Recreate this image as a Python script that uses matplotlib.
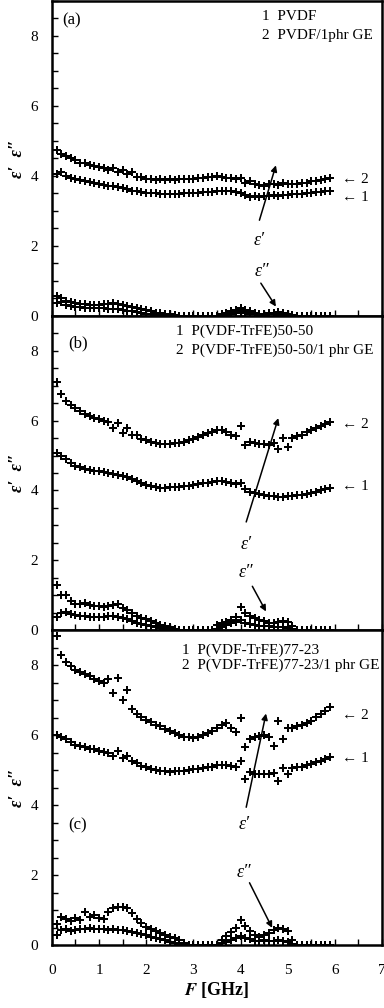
import numpy as np
import matplotlib as mpl
mpl.use("Agg")
import matplotlib.pyplot as plt
from matplotlib.ticker import MultipleLocator

mpl.rcParams.update({
    "font.family": "serif", "font.serif": ["Liberation Serif", "DejaVu Serif"],
    "mathtext.fontset": "stix",
    "font.size": 11, "xtick.labelsize": 11, "ytick.labelsize": 11,
    "xtick.direction": "in", "ytick.direction": "in",
})

# frequency grid (GHz)
F = np.round(np.arange(0.1, 5.95, 0.1), 1)

# ---- panel (a): PVDF (1) and PVDF/1phr GE (2)
a_e1_2 = [4.75, 4.62, 4.58, 4.50, 4.44, 4.38, 4.36, 4.32, 4.28, 4.25,
          4.22, 4.18, 4.22, 4.10, 4.18, 4.04, 4.10, 3.98, 3.96, 3.92,
          3.92, 3.89, 3.90, 3.88, 3.90, 3.88, 3.90, 3.90, 3.90, 3.92,
          3.93, 3.94, 3.96, 3.97, 3.99, 3.97, 3.95, 3.93, 3.90, 3.95,
          3.80, 3.85, 3.76, 3.75, 3.72, 3.76, 3.78, 3.74, 3.80, 3.76,
          3.78, 3.76, 3.80, 3.80, 3.84, 3.86, 3.88, 3.92, 3.93]
a_e1_1 = [4.05, 4.10, 4.00, 3.95, 3.90, 3.87, 3.84, 3.82, 3.80, 3.77,
          3.75, 3.72, 3.70, 3.68, 3.65, 3.62, 3.58, 3.56, 3.54, 3.52,
          3.50, 3.50, 3.49, 3.49, 3.49, 3.48, 3.49, 3.50, 3.50, 3.51,
          3.52, 3.53, 3.54, 3.55, 3.56, 3.58, 3.57, 3.56, 3.53, 3.50,
          3.45, 3.40, 3.42, 3.40, 3.42, 3.41, 3.44, 3.43, 3.46, 3.46,
          3.47, 3.47, 3.49, 3.50, 3.52, 3.53, 3.54, 3.56, 3.57]
a_e2_2 = [0.55, 0.50, 0.42, 0.38, 0.35, 0.33, 0.32, 0.30, 0.30, 0.30,
          0.32, 0.34, 0.36, 0.33, 0.30, 0.28, 0.24, 0.22, 0.18, 0.15,
          0.12, 0.09, 0.07, 0.05, 0.04, 0.02, 0, 0, 0, 0,
          0, 0, 0, 0, 0, 0.05, 0.08, 0.12, 0.16, 0.22,
          0.15, 0.12, 0.08, 0.06, 0.05, 0.07, 0.08, 0.10, 0.08, 0.06,
          0.02, 0, 0, 0, 0, 0, 0, 0, 0]
a_e2_1 = [0.35, 0.38, 0.30, 0.27, 0.25, 0.24, 0.23, 0.22, 0.22, 0.22,
          0.22, 0.20, 0.20, 0.18, 0.16, 0.14, 0.12, 0.10, 0.08, 0.06,
          0.05, 0.03, 0.02, 0.01, 0, 0, 0, 0, 0, 0,
          0, 0, 0, 0, 0, 0, 0.03, 0.05, 0.08, 0.10,
          0.08, 0.05, 0.04, 0.03, 0.03, 0.04, 0.04, 0.03, 0.02, 0.02,
          0, 0, 0, 0, 0, 0, 0, 0, 0]

# ---- panel (b): P(VDF-TrFE)50-50 (1) and /1 phr GE (2)
b_e1_2 = [7.10, 6.75, 6.55, 6.45, 6.35, 6.27, 6.20, 6.14, 6.08, 6.05,
          6.00, 5.95, 5.80, 5.92, 5.65, 5.80, 5.58, 5.60, 5.48, 5.44,
          5.40, 5.36, 5.34, 5.32, 5.33, 5.35, 5.37, 5.40, 5.44, 5.48,
          5.53, 5.58, 5.63, 5.67, 5.72, 5.74, 5.68, 5.60, 5.55, 5.85,
          5.30, 5.40, 5.35, 5.34, 5.32, 5.30, 5.36, 5.20, 5.50, 5.25,
          5.50, 5.55, 5.60, 5.66, 5.72, 5.78, 5.84, 5.90, 5.97]
b_e1_1 = [5.08, 5.00, 4.90, 4.78, 4.70, 4.66, 4.62, 4.60, 4.57, 4.55,
          4.53, 4.50, 4.48, 4.45, 4.42, 4.38, 4.33, 4.26, 4.20, 4.16,
          4.13, 4.10, 4.08, 4.08, 4.09, 4.10, 4.10, 4.12, 4.14, 4.16,
          4.18, 4.20, 4.22, 4.24, 4.26, 4.27, 4.25, 4.20, 4.18, 4.22,
          4.05, 3.95, 3.93, 3.90, 3.88, 3.85, 3.83, 3.82, 3.80, 3.84,
          3.85, 3.86, 3.88, 3.90, 3.93, 3.96, 4.00, 4.04, 4.08]
b_e2_2 = [1.30, 1.02, 1.00, 0.85, 0.76, 0.74, 0.78, 0.72, 0.70, 0.69,
          0.68, 0.69, 0.72, 0.74, 0.65, 0.58, 0.50, 0.42, 0.36, 0.32,
          0.26, 0.20, 0.16, 0.12, 0.09, 0.05, 0.02, 0, 0, 0,
          0, 0, 0, 0, 0.15, 0.20, 0.25, 0.30, 0.38, 0.68,
          0.50, 0.42, 0.35, 0.30, 0.26, 0.22, 0.20, 0.25, 0.28, 0.24,
          0.12, 0, 0, 0, 0, 0, 0, 0, 0]
b_e2_1 = [0.38, 0.50, 0.52, 0.46, 0.43, 0.41, 0.40, 0.39, 0.39, 0.38,
          0.39, 0.41, 0.40, 0.38, 0.35, 0.32, 0.27, 0.22, 0.18, 0.15,
          0.12, 0.09, 0.06, 0.04, 0.02, 0, 0, 0, 0, 0,
          0, 0, 0, 0, 0.05, 0.10, 0.14, 0.20, 0.25, 0.30,
          0.22, 0.18, 0.15, 0.13, 0.12, 0.11, 0.10, 0.10, 0.09, 0.08,
          0.03, 0, 0, 0, 0, 0, 0, 0, 0]

# ---- panel (c): P(VDF-TrFE)77-23 (1) and /1 phr GE (2)
c_e1_2 = [8.85, 8.30, 8.10, 7.98, 7.86, 7.80, 7.76, 7.70, 7.62, 7.55,
          7.48, 7.60, 7.20, 7.65, 7.00, 7.30, 6.75, 6.60, 6.52, 6.44,
          6.38, 6.30, 6.25, 6.17, 6.12, 6.06, 6.00, 5.96, 5.94, 5.93,
          5.95, 6.00, 6.06, 6.12, 6.20, 6.30, 6.35, 6.20, 6.10, 6.50,
          5.65, 5.90, 5.95, 5.98, 6.00, 5.95, 5.70, 6.40, 5.90, 6.20,
          6.20, 6.25, 6.30, 6.35, 6.42, 6.52, 6.60, 6.70, 6.80]
c_e1_1 = [6.00, 5.95, 5.88, 5.80, 5.72, 5.68, 5.65, 5.62, 5.60, 5.56,
          5.52, 5.50, 5.42, 5.55, 5.35, 5.40, 5.25, 5.20, 5.12, 5.08,
          5.04, 5.00, 4.98, 4.97, 4.96, 4.97, 4.97, 4.98, 5.00, 5.02,
          5.04, 5.06, 5.08, 5.10, 5.14, 5.16, 5.15, 5.12, 5.10, 5.25,
          4.75, 4.95, 4.90, 4.90, 4.88, 4.90, 4.92, 4.70, 5.05, 4.90,
          5.05, 5.08, 5.10, 5.14, 5.18, 5.22, 5.27, 5.32, 5.37]
c_e2_2 = [0.60, 0.80, 0.75, 0.70, 0.78, 0.72, 0.95, 0.80, 0.86, 0.78,
          0.75, 0.95, 1.05, 1.08, 1.10, 1.05, 0.92, 0.75, 0.62, 0.52,
          0.46, 0.40, 0.35, 0.30, 0.24, 0.20, 0.14, 0.06, 0, 0,
          0, 0, 0, 0, 0, 0.15, 0.25, 0.38, 0.50, 0.72,
          0.55, 0.40, 0.28, 0.24, 0.30, 0.35, 0.42, 0.48, 0.45, 0.40,
          0.15, 0, 0, 0, 0, 0, 0, 0, 0]
c_e2_1 = [0.30, 0.42, 0.45, 0.40, 0.44, 0.46, 0.45, 0.48, 0.47, 0.45,
          0.46, 0.44, 0.45, 0.43, 0.42, 0.40, 0.38, 0.35, 0.32, 0.28,
          0.24, 0.20, 0.17, 0.13, 0.10, 0.07, 0.04, 0.01, 0, 0,
          0, 0, 0, 0, 0, 0.06, 0.10, 0.15, 0.20, 0.25,
          0.20, 0.16, 0.12, 0.12, 0.13, 0.12, 0.12, 0.13, 0.11, 0.10,
          0.04, 0, 0, 0, 0, 0, 0, 0, 0]

LEG_A = ["1  PVDF", "2  PVDF/1phr GE"]
LEG_B = ["1  P(VDF-TrFE)50-50", "2  P(VDF-TrFE)50-50/1 phr GE"]
LEG_C = ["1  P(VDF-TrFE)77-23", "2  P(VDF-TrFE)77-23/1 phr GE"]

fig, axes = plt.subplots(3, 1, sharex=True, figsize=(3.84, 10.08), dpi=100)
fig.subplots_adjust(left=0.135, right=0.995, top=0.999, bottom=0.0625, hspace=0)

panels = [
    (axes[0], "(a)", (0.23, 8.45), [a_e1_1, a_e1_2, a_e2_1, a_e2_2], LEG_A, (4.46, 8.55, 8.0),
     (3.9, 3.39), ((4.4, 2.14), (4.4, 2.73), (4.75, 4.3)), ((4.45, 1.25), (4.43, 0.93), (4.75, 0.26))),
    (axes[1], "(b)", (0.34, 8.2), [b_e1_1, b_e1_2, b_e2_1, b_e2_2], LEG_B, (2.64, 8.54, 8.0),
     (5.9, 4.1), ((4.12, 2.46), (4.12, 3.1), (4.8, 6.07)), ((4.12, 1.66), (4.25, 1.26), (4.54, 0.54))),
    (axes[2], "(c)", (0.34, 3.42), [c_e1_1, c_e1_2, c_e2_1, c_e2_2], LEG_C, (2.75, 8.43, 8.0),
     (6.56, 5.32), ((4.08, 3.45), (4.12, 3.94), (4.54, 6.62)), ((4.08, 2.07), (4.19, 1.78), (4.67, 0.49))),
]

for ax, tag, tpos, series, leg, lpos, rpos, ann1, ann2 in panels:
    for s in series:
        ax.plot(F, s, "P", color="black", ms=6, mew=0, clip_on=True)
    ax.set_xlim(0, 7); ax.set_ylim(0, 9)
    ax.set_yticks([0, 2, 4, 6, 8])
    ax.yaxis.set_minor_locator(MultipleLocator(0.5))
    ax.xaxis.set_major_locator(MultipleLocator(1))
    ax.xaxis.set_minor_locator(MultipleLocator(0.5))
    ax.tick_params(which="both", length=4, width=1)
    ax.tick_params(axis="y", pad=10)
    for side in ("left", "right", "bottom", "top"):
        ax.spines[side].set_linewidth(1.8)
    ax.text(tpos[0], tpos[1], tag, fontsize=12, va="center")
    ax.text(lpos[0], lpos[1], leg[0], fontsize=11, va="center")
    ax.text(lpos[0], lpos[2], leg[1], fontsize=11, va="center")
    ax.text(6.15, rpos[0], "\u2190 2", fontsize=11, va="center")
    ax.text(6.15, rpos[1], "\u2190 1", fontsize=11, va="center")
    ax.text(ann1[0][0], ann1[0][1], "\u03b5\u2032", fontsize=13, style="italic", ha="center", va="center")
    ax.annotate("", xy=ann1[2], xytext=ann1[1],
                arrowprops=dict(arrowstyle="-|>", color="black", lw=1.1, mutation_scale=9, shrinkA=0, shrinkB=0))
    ax.text(ann2[0][0], ann2[0][1], "\u03b5\u2033", fontsize=13, style="italic", ha="center", va="center")
    ax.annotate("", xy=ann2[2], xytext=ann2[1],
                arrowprops=dict(arrowstyle="-|>", color="black", lw=1.1, mutation_scale=9, shrinkA=0, shrinkB=0))
    ax.set_ylabel("\u03b5\u2032  \u03b5\u2033", fontsize=13, fontweight="bold", style="italic", labelpad=3)

axes[0].tick_params(axis="x", labelbottom=False)
axes[1].tick_params(axis="x", labelbottom=False)
axes[2].tick_params(axis="x", pad=14)
axes[2].set_xlabel(r"$\boldsymbol{F}$ [GHz]", fontsize=13, fontweight="bold", labelpad=2)

fig.savefig("out.png", dpi=100)
